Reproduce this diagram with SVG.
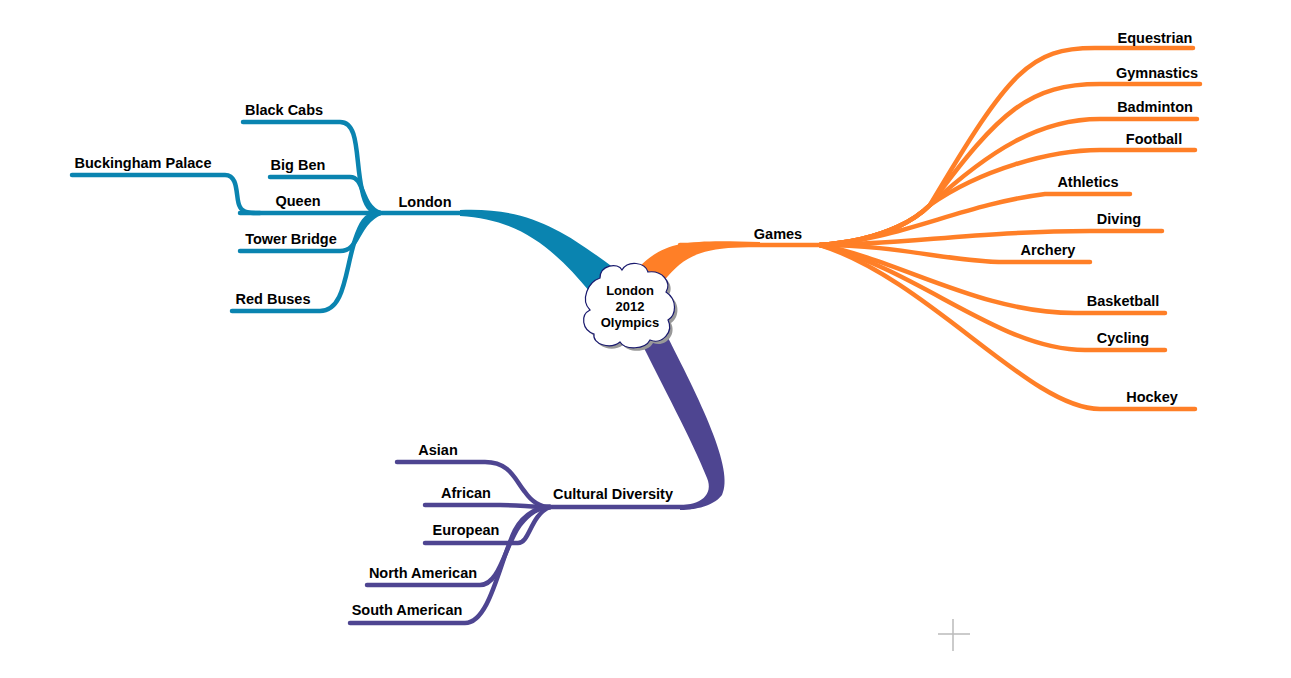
<svg xmlns="http://www.w3.org/2000/svg" width="1291" height="678" viewBox="0 0 1291 678">
<style>
text{font-family:"Liberation Sans",Arial,sans-serif;font-size:14.5px;font-weight:bold;fill:#000;text-anchor:middle}
.b{fill:none;stroke-width:4.5;stroke-linecap:round}
.bl{stroke:#0a84b0}.or{stroke:#ff7f27}.pu{stroke:#4e4591}
</style>
<rect width="1291" height="678" fill="#fff"/>
<g id="connectors">
<path fill="#0a84b0" d="M460 210 C530 207 565 232 614 268 L590 292 C555 250 520 219 460 216 Z"/>
<path fill="#ff7f27" d="M638 268 C665 240 690 240 760 242 L760 247 C700 247 685 255 663 282 Z"/>
<path fill="#4e4591" d="M638 336 L664 330 C700 400 735 470 722 495 C712 508 690 510 680 510 L680 505 C700 505 714 495 707 478 C692 440 662 385 638 336 Z"/>
<g class="b bl">
<path d="M370 213 L470 213"/>
<path d="M243 122 L340 122 C360 122 355 160 362 190 C365 205 370 213 380 213"/>
<path d="M270 177 L350 177 C365 177 360 205 380 213"/>
<path d="M240 213 L380 213"/>
<path d="M72 175 L225 175 C240 175 235 200 240 207 C243 213 250 213 260 213"/>
<path d="M240 251 L340 251 C360 251 355 225 380 213"/>
<path d="M232 311 L320 311 C345 311 345 270 355 240 C360 225 365 213 380 213"/>
</g>
<g class="b or">
<path d="M680 245 L820 245"/>
<path d="M820 245 C890 240 920 215 930 205 C1010 70 1030 48 1095 48 L1193 48"/>
<path d="M820 245 C890 240 920 215 930 205 C1000 110 1030 84 1100 84 L1200 84"/>
<path d="M820 245 C890 240 920 215 930 205 C990 150 1040 119 1100 119 L1197 119"/>
<path d="M820 245 C890 240 920 215 930 205 C980 170 1050 150 1100 150 L1195 150"/>
<path d="M820 245 C900 240 960 205 1045 194 L1130 194"/>
<path d="M820 245 C900 245 980 231 1090 231 L1162 231"/>
<path d="M820 245 C900 245 950 262 1005 262 L1090 262"/>
<path d="M820 245 C900 260 980 313 1075 313 L1165 313"/>
<path d="M820 245 C920 270 1000 350 1085 350 L1165 350"/>
<path d="M820 245 C930 280 1030 409 1100 409 L1195 409"/>
</g>
<g class="b pu">
<path d="M545 507 L690 507"/>
<path d="M397 462 L485 462 C510 462 515 480 525 492 C532 502 540 507 550 507"/>
<path d="M425 505 L500 505 C520 505 530 507 550 507"/>
<path d="M425 543 L518 543 C530 543 530 515 550 507"/>
<path d="M367 585 L480 585 C500 585 505 545 520 525 C530 512 540 507 550 507"/>
<path d="M350 623 L465 623 C490 623 500 560 515 530 C525 512 540 507 550 507"/>
</g>
</g>
<g id="center">
<path transform="translate(3,3)" fill="#999" d="M600 278 C600 265 618 262 622 270 C628 260 645 262 648 272 C662 270 672 282 666 292 C678 300 676 315 668 320 C674 332 662 345 650 340 C645 350 625 350 620 342 C610 350 592 344 594 334 C582 330 580 315 590 310 C580 300 588 282 600 278 Z"/>
<path fill="#fff" stroke="#1a1a6e" stroke-width="1.2" d="M600 278 C600 265 618 262 622 270 C628 260 645 262 648 272 C662 270 672 282 666 292 C678 300 676 315 668 320 C674 332 662 345 650 340 C645 350 625 350 620 342 C610 350 592 344 594 334 C582 330 580 315 590 310 C580 300 588 282 600 278 Z"/>
<text x="630" y="295" style="font-size:13px">London</text><text x="630" y="311" style="font-size:13px">2012</text><text x="630" y="327" style="font-size:13px">Olympics</text>
</g>
<g id="london"><text x="284" y="115">Black Cabs</text><text x="298" y="170">Big Ben</text><text x="143" y="168">Buckingham Palace</text><text x="298" y="206">Queen</text><text x="291" y="244">Tower Bridge</text><text x="273" y="304">Red Buses</text><text x="425" y="207">London</text></g>
<g id="games"><text x="778" y="239">Games</text>
<text x="1155" y="43">Equestrian</text><text x="1157" y="78">Gymnastics</text><text x="1155" y="112">Badminton</text><text x="1154" y="144">Football</text><text x="1088" y="187">Athletics</text><text x="1119" y="224">Diving</text><text x="1048" y="255">Archery</text><text x="1123" y="306">Basketball</text><text x="1123" y="343">Cycling</text><text x="1152" y="402">Hockey</text></g>
<g id="culture"><text x="613" y="499">Cultural Diversity</text>
<text x="438" y="455">Asian</text><text x="466" y="498">African</text><text x="466" y="535">European</text><text x="423" y="578">North American</text><text x="407" y="615">South American</text></g>
<g stroke="#bbb" stroke-width="1.5"><path d="M953 619 V651 M938 634 H970"/></g>
</svg>
